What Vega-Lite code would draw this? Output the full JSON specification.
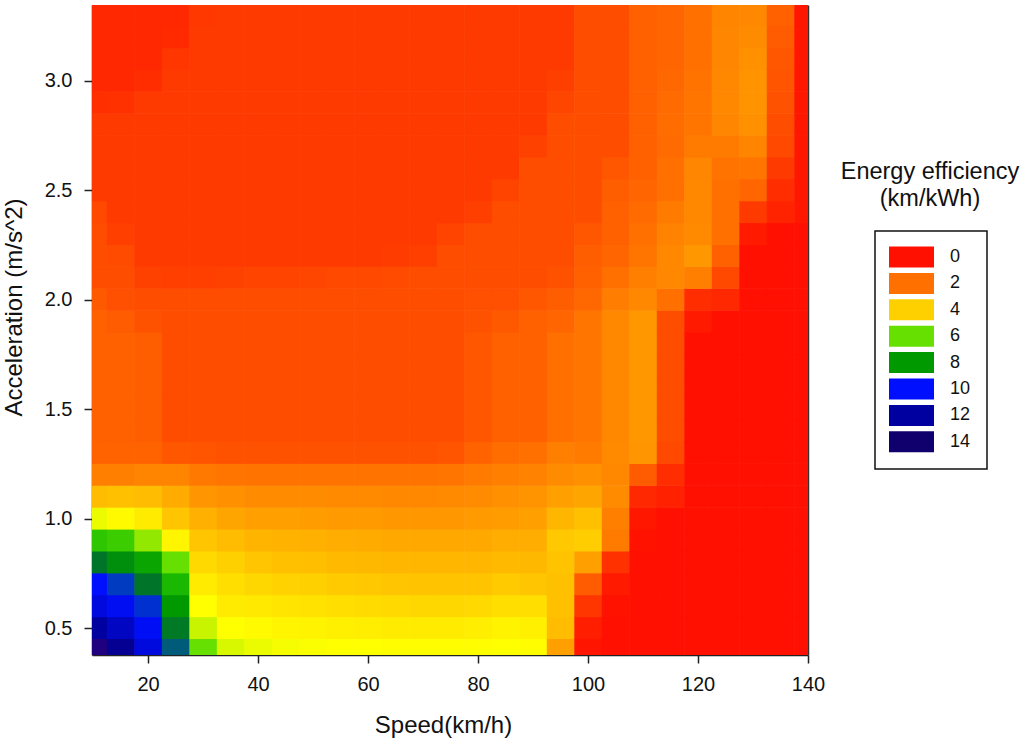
{
  "$schema": "https://vega.github.io/schema/vega-lite/v6.json",
  "description": "Filled contour of energy efficiency by speed and acceleration, drawn as a fine heatmap.",
  "width": 716,
  "height": 650,
  "autosize": {"type": "none"},
  "padding": {"left": 92, "top": 5, "right": 216, "bottom": 87},
  "title": {
    "text": ["Energy efficiency", "(km/kWh)"],
    "orient": "top",
    "anchor": "start",
    "frame": "group",
    "align": "center",
    "baseline": "top",
    "offset": 0,
    "dx": 838,
    "dy": 205,
    "font": "Liberation Sans",
    "fontSize": 23.5,
    "fontWeight": "normal",
    "color": "#111111",
    "lineHeight": 27
  },
  "data": {
    "values": [
      {"s":10,"a":0.4,"e":14.5},{"s":10,"a":0.5,"e":12},{"s":10,"a":0.6,"e":10.7},{"s":10,"a":0.7,"e":10},{"s":10,"a":0.8,"e":8.7},{"s":10,"a":0.9,"e":6.8},{"s":10,"a":1.0,"e":5.2},{"s":10,"a":1.1,"e":3.6},{"s":10,"a":1.2,"e":2.3},{"s":10,"a":1.3,"e":1.75},{"s":10,"a":1.4,"e":1.7},{"s":10,"a":1.5,"e":1.7},{"s":10,"a":1.6,"e":1.7},{"s":10,"a":1.7,"e":1.7},{"s":10,"a":1.8,"e":1.7},{"s":10,"a":1.9,"e":1.7},{"s":10,"a":2.0,"e":1.55},{"s":10,"a":2.1,"e":1.3},{"s":10,"a":2.2,"e":1.3},{"s":10,"a":2.3,"e":1.3},{"s":10,"a":2.4,"e":1.2},{"s":10,"a":2.5,"e":0.9},{"s":10,"a":2.6,"e":0.9},{"s":10,"a":2.7,"e":0.9},{"s":10,"a":2.8,"e":0.9},{"s":10,"a":2.9,"e":0.65},{"s":10,"a":3.0,"e":0.5},{"s":10,"a":3.1,"e":0.5},{"s":10,"a":3.2,"e":0.5},{"s":10,"a":3.3,"e":0.5},
      {"s":15,"a":0.4,"e":12.6},{"s":15,"a":0.5,"e":11.3},{"s":15,"a":0.6,"e":10.3},{"s":15,"a":0.7,"e":9.6},{"s":15,"a":0.8,"e":8.2},{"s":15,"a":0.9,"e":6.6},{"s":15,"a":1.0,"e":4.9},{"s":15,"a":1.1,"e":3.7},{"s":15,"a":1.2,"e":2.3},{"s":15,"a":1.3,"e":1.75},{"s":15,"a":1.4,"e":1.7},{"s":15,"a":1.5,"e":1.7},{"s":15,"a":1.6,"e":1.7},{"s":15,"a":1.7,"e":1.7},{"s":15,"a":1.8,"e":1.7},{"s":15,"a":1.9,"e":1.6},{"s":15,"a":2.0,"e":1.35},{"s":15,"a":2.1,"e":1.3},{"s":15,"a":2.2,"e":1.25},{"s":15,"a":2.3,"e":1.0},{"s":15,"a":2.4,"e":0.9},{"s":15,"a":2.5,"e":0.9},{"s":15,"a":2.6,"e":0.9},{"s":15,"a":2.7,"e":0.9},{"s":15,"a":2.8,"e":0.9},{"s":15,"a":2.9,"e":0.7},{"s":15,"a":3.0,"e":0.5},{"s":15,"a":3.1,"e":0.5},{"s":15,"a":3.2,"e":0.5},{"s":15,"a":3.3,"e":0.5},
      {"s":20,"a":0.4,"e":10.7},{"s":20,"a":0.5,"e":10.2},{"s":20,"a":0.6,"e":9.7},{"s":20,"a":0.7,"e":8.7},{"s":20,"a":0.8,"e":7.7},{"s":20,"a":0.9,"e":5.8},{"s":20,"a":1.0,"e":4.6},{"s":20,"a":1.1,"e":3.6},{"s":20,"a":1.2,"e":2.4},{"s":20,"a":1.3,"e":1.75},{"s":20,"a":1.4,"e":1.65},{"s":20,"a":1.5,"e":1.65},{"s":20,"a":1.6,"e":1.65},{"s":20,"a":1.7,"e":1.65},{"s":20,"a":1.8,"e":1.65},{"s":20,"a":1.9,"e":1.4},{"s":20,"a":2.0,"e":1.3},{"s":20,"a":2.1,"e":1.05},{"s":20,"a":2.2,"e":0.9},{"s":20,"a":2.3,"e":0.9},{"s":20,"a":2.4,"e":0.9},{"s":20,"a":2.5,"e":0.9},{"s":20,"a":2.6,"e":0.9},{"s":20,"a":2.7,"e":0.9},{"s":20,"a":2.8,"e":0.9},{"s":20,"a":2.9,"e":0.9},{"s":20,"a":3.0,"e":0.6},{"s":20,"a":3.1,"e":0.5},{"s":20,"a":3.2,"e":0.5},{"s":20,"a":3.3,"e":0.5},
      {"s":25,"a":0.4,"e":9.2},{"s":25,"a":0.5,"e":8.6},{"s":25,"a":0.6,"e":8.0},{"s":25,"a":0.7,"e":7.2},{"s":25,"a":0.8,"e":6.0},{"s":25,"a":0.9,"e":4.8},{"s":25,"a":1.0,"e":3.8},{"s":25,"a":1.1,"e":3.2},{"s":25,"a":1.2,"e":2.4},{"s":25,"a":1.3,"e":1.5},{"s":25,"a":1.4,"e":1.3},{"s":25,"a":1.5,"e":1.3},{"s":25,"a":1.6,"e":1.3},{"s":25,"a":1.7,"e":1.3},{"s":25,"a":1.8,"e":1.3},{"s":25,"a":1.9,"e":1.3},{"s":25,"a":2.0,"e":1.3},{"s":25,"a":2.1,"e":1.0},{"s":25,"a":2.2,"e":0.9},{"s":25,"a":2.3,"e":0.9},{"s":25,"a":2.4,"e":0.9},{"s":25,"a":2.5,"e":0.9},{"s":25,"a":2.6,"e":0.9},{"s":25,"a":2.7,"e":0.9},{"s":25,"a":2.8,"e":0.9},{"s":25,"a":2.9,"e":0.9},{"s":25,"a":3.0,"e":0.9},{"s":25,"a":3.1,"e":0.8},{"s":25,"a":3.2,"e":0.55},{"s":25,"a":3.3,"e":0.5},
      {"s":30,"a":0.4,"e":6.0},{"s":30,"a":0.5,"e":5.5},{"s":30,"a":0.6,"e":5.0},{"s":30,"a":0.7,"e":4.6},{"s":30,"a":0.8,"e":4.2},{"s":30,"a":0.9,"e":3.8},{"s":30,"a":1.0,"e":3.3},{"s":30,"a":1.1,"e":2.8},{"s":30,"a":1.2,"e":2.15},{"s":30,"a":1.3,"e":1.45},{"s":30,"a":1.4,"e":1.3},{"s":30,"a":1.5,"e":1.3},{"s":30,"a":1.6,"e":1.3},{"s":30,"a":1.7,"e":1.3},{"s":30,"a":1.8,"e":1.3},{"s":30,"a":1.9,"e":1.3},{"s":30,"a":2.0,"e":1.3},{"s":30,"a":2.1,"e":1.0},{"s":30,"a":2.2,"e":0.9},{"s":30,"a":2.3,"e":0.9},{"s":30,"a":2.4,"e":0.9},{"s":30,"a":2.5,"e":0.9},{"s":30,"a":2.6,"e":0.9},{"s":30,"a":2.7,"e":0.9},{"s":30,"a":2.8,"e":0.9},{"s":30,"a":2.9,"e":0.9},{"s":30,"a":3.0,"e":0.9},{"s":30,"a":3.1,"e":0.9},{"s":30,"a":3.2,"e":0.9},{"s":30,"a":3.3,"e":0.85},
      {"s":35,"a":0.4,"e":5.4},{"s":35,"a":0.5,"e":5.0},{"s":35,"a":0.6,"e":4.6},{"s":35,"a":0.7,"e":4.3},{"s":35,"a":0.8,"e":4.0},{"s":35,"a":0.9,"e":3.6},{"s":35,"a":1.0,"e":3.1},{"s":35,"a":1.1,"e":2.7},{"s":35,"a":1.2,"e":2.1},{"s":35,"a":1.3,"e":1.4},{"s":35,"a":1.4,"e":1.3},{"s":35,"a":1.5,"e":1.3},{"s":35,"a":1.6,"e":1.3},{"s":35,"a":1.7,"e":1.3},{"s":35,"a":1.8,"e":1.3},{"s":35,"a":1.9,"e":1.3},{"s":35,"a":2.0,"e":1.3},{"s":35,"a":2.1,"e":1.05},{"s":35,"a":2.2,"e":0.9},{"s":35,"a":2.3,"e":0.9},{"s":35,"a":2.4,"e":0.9},{"s":35,"a":2.5,"e":0.9},{"s":35,"a":2.6,"e":0.9},{"s":35,"a":2.7,"e":0.9},{"s":35,"a":2.8,"e":0.9},{"s":35,"a":2.9,"e":0.9},{"s":35,"a":3.0,"e":0.9},{"s":35,"a":3.1,"e":0.9},{"s":35,"a":3.2,"e":0.9},{"s":35,"a":3.3,"e":0.9},
      {"s":40,"a":0.4,"e":5.2},{"s":40,"a":0.5,"e":4.9},{"s":40,"a":0.6,"e":4.55},{"s":40,"a":0.7,"e":4.15},{"s":40,"a":0.8,"e":3.8},{"s":40,"a":0.9,"e":3.4},{"s":40,"a":1.0,"e":3.0},{"s":40,"a":1.1,"e":2.6},{"s":40,"a":1.2,"e":2.05},{"s":40,"a":1.3,"e":1.4},{"s":40,"a":1.4,"e":1.3},{"s":40,"a":1.5,"e":1.3},{"s":40,"a":1.6,"e":1.3},{"s":40,"a":1.7,"e":1.3},{"s":40,"a":1.8,"e":1.3},{"s":40,"a":1.9,"e":1.3},{"s":40,"a":2.0,"e":1.3},{"s":40,"a":2.1,"e":1.1},{"s":40,"a":2.2,"e":0.9},{"s":40,"a":2.3,"e":0.9},{"s":40,"a":2.4,"e":0.9},{"s":40,"a":2.5,"e":0.9},{"s":40,"a":2.6,"e":0.9},{"s":40,"a":2.7,"e":0.9},{"s":40,"a":2.8,"e":0.9},{"s":40,"a":2.9,"e":0.9},{"s":40,"a":3.0,"e":0.9},{"s":40,"a":3.1,"e":0.9},{"s":40,"a":3.2,"e":0.9},{"s":40,"a":3.3,"e":0.9},
      {"s":45,"a":0.4,"e":5.1},{"s":45,"a":0.5,"e":4.8},{"s":45,"a":0.6,"e":4.45},{"s":45,"a":0.7,"e":4.05},{"s":45,"a":0.8,"e":3.7},{"s":45,"a":0.9,"e":3.35},{"s":45,"a":1.0,"e":3.0},{"s":45,"a":1.1,"e":2.6},{"s":45,"a":1.2,"e":2.05},{"s":45,"a":1.3,"e":1.4},{"s":45,"a":1.4,"e":1.3},{"s":45,"a":1.5,"e":1.3},{"s":45,"a":1.6,"e":1.3},{"s":45,"a":1.7,"e":1.3},{"s":45,"a":1.8,"e":1.3},{"s":45,"a":1.9,"e":1.3},{"s":45,"a":2.0,"e":1.3},{"s":45,"a":2.1,"e":1.1},{"s":45,"a":2.2,"e":0.9},{"s":45,"a":2.3,"e":0.9},{"s":45,"a":2.4,"e":0.9},{"s":45,"a":2.5,"e":0.9},{"s":45,"a":2.6,"e":0.9},{"s":45,"a":2.7,"e":0.9},{"s":45,"a":2.8,"e":0.9},{"s":45,"a":2.9,"e":0.9},{"s":45,"a":3.0,"e":0.9},{"s":45,"a":3.1,"e":0.9},{"s":45,"a":3.2,"e":0.9},{"s":45,"a":3.3,"e":0.9},
      {"s":50,"a":0.4,"e":5.05},{"s":50,"a":0.5,"e":4.75},{"s":50,"a":0.6,"e":4.4},{"s":50,"a":0.7,"e":4.0},{"s":50,"a":0.8,"e":3.65},{"s":50,"a":0.9,"e":3.3},{"s":50,"a":1.0,"e":2.95},{"s":50,"a":1.1,"e":2.6},{"s":50,"a":1.2,"e":2.05},{"s":50,"a":1.3,"e":1.4},{"s":50,"a":1.4,"e":1.3},{"s":50,"a":1.5,"e":1.3},{"s":50,"a":1.6,"e":1.3},{"s":50,"a":1.7,"e":1.3},{"s":50,"a":1.8,"e":1.3},{"s":50,"a":1.9,"e":1.3},{"s":50,"a":2.0,"e":1.3},{"s":50,"a":2.1,"e":1.15},{"s":50,"a":2.2,"e":0.9},{"s":50,"a":2.3,"e":0.9},{"s":50,"a":2.4,"e":0.9},{"s":50,"a":2.5,"e":0.9},{"s":50,"a":2.6,"e":0.9},{"s":50,"a":2.7,"e":0.9},{"s":50,"a":2.8,"e":0.9},{"s":50,"a":2.9,"e":0.9},{"s":50,"a":3.0,"e":0.9},{"s":50,"a":3.1,"e":0.9},{"s":50,"a":3.2,"e":0.9},{"s":50,"a":3.3,"e":0.9},
      {"s":55,"a":0.4,"e":5.0},{"s":55,"a":0.5,"e":4.7},{"s":55,"a":0.6,"e":4.3},{"s":55,"a":0.7,"e":3.9},{"s":55,"a":0.8,"e":3.55},{"s":55,"a":0.9,"e":3.25},{"s":55,"a":1.0,"e":2.9},{"s":55,"a":1.1,"e":2.55},{"s":55,"a":1.2,"e":2.05},{"s":55,"a":1.3,"e":1.4},{"s":55,"a":1.4,"e":1.3},{"s":55,"a":1.5,"e":1.3},{"s":55,"a":1.6,"e":1.3},{"s":55,"a":1.7,"e":1.3},{"s":55,"a":1.8,"e":1.3},{"s":55,"a":1.9,"e":1.3},{"s":55,"a":2.0,"e":1.3},{"s":55,"a":2.1,"e":1.2},{"s":55,"a":2.2,"e":0.9},{"s":55,"a":2.3,"e":0.9},{"s":55,"a":2.4,"e":0.9},{"s":55,"a":2.5,"e":0.9},{"s":55,"a":2.6,"e":0.9},{"s":55,"a":2.7,"e":0.9},{"s":55,"a":2.8,"e":0.9},{"s":55,"a":2.9,"e":0.9},{"s":55,"a":3.0,"e":0.9},{"s":55,"a":3.1,"e":0.9},{"s":55,"a":3.2,"e":0.9},{"s":55,"a":3.3,"e":0.9},
      {"s":60,"a":0.4,"e":5.0},{"s":60,"a":0.5,"e":4.65},{"s":60,"a":0.6,"e":4.25},{"s":60,"a":0.7,"e":3.85},{"s":60,"a":0.8,"e":3.5},{"s":60,"a":0.9,"e":3.2},{"s":60,"a":1.0,"e":2.9},{"s":60,"a":1.1,"e":2.55},{"s":60,"a":1.2,"e":2.05},{"s":60,"a":1.3,"e":1.4},{"s":60,"a":1.4,"e":1.3},{"s":60,"a":1.5,"e":1.3},{"s":60,"a":1.6,"e":1.3},{"s":60,"a":1.7,"e":1.3},{"s":60,"a":1.8,"e":1.3},{"s":60,"a":1.9,"e":1.3},{"s":60,"a":2.0,"e":1.3},{"s":60,"a":2.1,"e":1.2},{"s":60,"a":2.2,"e":0.9},{"s":60,"a":2.3,"e":0.9},{"s":60,"a":2.4,"e":0.9},{"s":60,"a":2.5,"e":0.9},{"s":60,"a":2.6,"e":0.9},{"s":60,"a":2.7,"e":0.9},{"s":60,"a":2.8,"e":0.9},{"s":60,"a":2.9,"e":0.9},{"s":60,"a":3.0,"e":0.9},{"s":60,"a":3.1,"e":0.9},{"s":60,"a":3.2,"e":0.9},{"s":60,"a":3.3,"e":0.9},
      {"s":65,"a":0.4,"e":4.95},{"s":65,"a":0.5,"e":4.6},{"s":65,"a":0.6,"e":4.2},{"s":65,"a":0.7,"e":3.8},{"s":65,"a":0.8,"e":3.45},{"s":65,"a":0.9,"e":3.15},{"s":65,"a":1.0,"e":2.85},{"s":65,"a":1.1,"e":2.5},{"s":65,"a":1.2,"e":2.05},{"s":65,"a":1.3,"e":1.4},{"s":65,"a":1.4,"e":1.3},{"s":65,"a":1.5,"e":1.3},{"s":65,"a":1.6,"e":1.3},{"s":65,"a":1.7,"e":1.3},{"s":65,"a":1.8,"e":1.3},{"s":65,"a":1.9,"e":1.3},{"s":65,"a":2.0,"e":1.3},{"s":65,"a":2.1,"e":1.25},{"s":65,"a":2.2,"e":0.95},{"s":65,"a":2.3,"e":0.9},{"s":65,"a":2.4,"e":0.9},{"s":65,"a":2.5,"e":0.9},{"s":65,"a":2.6,"e":0.9},{"s":65,"a":2.7,"e":0.9},{"s":65,"a":2.8,"e":0.9},{"s":65,"a":2.9,"e":0.9},{"s":65,"a":3.0,"e":0.9},{"s":65,"a":3.1,"e":0.9},{"s":65,"a":3.2,"e":0.9},{"s":65,"a":3.3,"e":0.9},
      {"s":70,"a":0.4,"e":4.95},{"s":70,"a":0.5,"e":4.6},{"s":70,"a":0.6,"e":4.15},{"s":70,"a":0.7,"e":3.75},{"s":70,"a":0.8,"e":3.45},{"s":70,"a":0.9,"e":3.15},{"s":70,"a":1.0,"e":2.85},{"s":70,"a":1.1,"e":2.5},{"s":70,"a":1.2,"e":2.05},{"s":70,"a":1.3,"e":1.4},{"s":70,"a":1.4,"e":1.3},{"s":70,"a":1.5,"e":1.3},{"s":70,"a":1.6,"e":1.3},{"s":70,"a":1.7,"e":1.3},{"s":70,"a":1.8,"e":1.3},{"s":70,"a":1.9,"e":1.3},{"s":70,"a":2.0,"e":1.3},{"s":70,"a":2.1,"e":1.3},{"s":70,"a":2.2,"e":1.0},{"s":70,"a":2.3,"e":0.9},{"s":70,"a":2.4,"e":0.9},{"s":70,"a":2.5,"e":0.9},{"s":70,"a":2.6,"e":0.9},{"s":70,"a":2.7,"e":0.9},{"s":70,"a":2.8,"e":0.9},{"s":70,"a":2.9,"e":0.9},{"s":70,"a":3.0,"e":0.9},{"s":70,"a":3.1,"e":0.9},{"s":70,"a":3.2,"e":0.9},{"s":70,"a":3.3,"e":0.9},
      {"s":75,"a":0.4,"e":4.95},{"s":75,"a":0.5,"e":4.6},{"s":75,"a":0.6,"e":4.15},{"s":75,"a":0.7,"e":3.75},{"s":75,"a":0.8,"e":3.45},{"s":75,"a":0.9,"e":3.15},{"s":75,"a":1.0,"e":2.85},{"s":75,"a":1.1,"e":2.55},{"s":75,"a":1.2,"e":2.1},{"s":75,"a":1.3,"e":1.45},{"s":75,"a":1.4,"e":1.3},{"s":75,"a":1.5,"e":1.3},{"s":75,"a":1.6,"e":1.3},{"s":75,"a":1.7,"e":1.3},{"s":75,"a":1.8,"e":1.3},{"s":75,"a":1.9,"e":1.3},{"s":75,"a":2.0,"e":1.3},{"s":75,"a":2.1,"e":1.3},{"s":75,"a":2.2,"e":1.3},{"s":75,"a":2.3,"e":1.1},{"s":75,"a":2.4,"e":0.9},{"s":75,"a":2.5,"e":0.9},{"s":75,"a":2.6,"e":0.9},{"s":75,"a":2.7,"e":0.9},{"s":75,"a":2.8,"e":0.9},{"s":75,"a":2.9,"e":0.9},{"s":75,"a":3.0,"e":0.9},{"s":75,"a":3.1,"e":0.9},{"s":75,"a":3.2,"e":0.9},{"s":75,"a":3.3,"e":0.9},
      {"s":80,"a":0.4,"e":4.95},{"s":80,"a":0.5,"e":4.65},{"s":80,"a":0.6,"e":4.2},{"s":80,"a":0.7,"e":3.75},{"s":80,"a":0.8,"e":3.45},{"s":80,"a":0.9,"e":3.15},{"s":80,"a":1.0,"e":2.9},{"s":80,"a":1.1,"e":2.6},{"s":80,"a":1.2,"e":2.2},{"s":80,"a":1.3,"e":1.75},{"s":80,"a":1.4,"e":1.5},{"s":80,"a":1.5,"e":1.5},{"s":80,"a":1.6,"e":1.5},{"s":80,"a":1.7,"e":1.5},{"s":80,"a":1.8,"e":1.5},{"s":80,"a":1.9,"e":1.4},{"s":80,"a":2.0,"e":1.35},{"s":80,"a":2.1,"e":1.3},{"s":80,"a":2.2,"e":1.3},{"s":80,"a":2.3,"e":1.3},{"s":80,"a":2.4,"e":1.0},{"s":80,"a":2.5,"e":0.9},{"s":80,"a":2.6,"e":0.9},{"s":80,"a":2.7,"e":0.9},{"s":80,"a":2.8,"e":0.9},{"s":80,"a":2.9,"e":0.9},{"s":80,"a":3.0,"e":0.9},{"s":80,"a":3.1,"e":0.9},{"s":80,"a":3.2,"e":0.9},{"s":80,"a":3.3,"e":0.9},
      {"s":85,"a":0.4,"e":5.0},{"s":85,"a":0.5,"e":4.75},{"s":85,"a":0.6,"e":4.3},{"s":85,"a":0.7,"e":3.9},{"s":85,"a":0.8,"e":3.55},{"s":85,"a":0.9,"e":3.25},{"s":85,"a":1.0,"e":2.95},{"s":85,"a":1.1,"e":2.7},{"s":85,"a":1.2,"e":2.3},{"s":85,"a":1.3,"e":1.95},{"s":85,"a":1.4,"e":1.7},{"s":85,"a":1.5,"e":1.7},{"s":85,"a":1.6,"e":1.7},{"s":85,"a":1.7,"e":1.7},{"s":85,"a":1.8,"e":1.7},{"s":85,"a":1.9,"e":1.55},{"s":85,"a":2.0,"e":1.35},{"s":85,"a":2.1,"e":1.3},{"s":85,"a":2.2,"e":1.3},{"s":85,"a":2.3,"e":1.3},{"s":85,"a":2.4,"e":1.3},{"s":85,"a":2.5,"e":1.1},{"s":85,"a":2.6,"e":0.9},{"s":85,"a":2.7,"e":0.9},{"s":85,"a":2.8,"e":0.9},{"s":85,"a":2.9,"e":0.9},{"s":85,"a":3.0,"e":0.9},{"s":85,"a":3.1,"e":0.9},{"s":85,"a":3.2,"e":0.9},{"s":85,"a":3.3,"e":0.9},
      {"s":90,"a":0.4,"e":4.95},{"s":90,"a":0.5,"e":4.7},{"s":90,"a":0.6,"e":4.3},{"s":90,"a":0.7,"e":3.8},{"s":90,"a":0.8,"e":3.5},{"s":90,"a":0.9,"e":3.25},{"s":90,"a":1.0,"e":3.0},{"s":90,"a":1.1,"e":2.75},{"s":90,"a":1.2,"e":2.35},{"s":90,"a":1.3,"e":2.0},{"s":90,"a":1.4,"e":1.7},{"s":90,"a":1.5,"e":1.7},{"s":90,"a":1.6,"e":1.7},{"s":90,"a":1.7,"e":1.7},{"s":90,"a":1.8,"e":1.7},{"s":90,"a":1.9,"e":1.7},{"s":90,"a":2.0,"e":1.5},{"s":90,"a":2.1,"e":1.3},{"s":90,"a":2.2,"e":1.3},{"s":90,"a":2.3,"e":1.3},{"s":90,"a":2.4,"e":1.3},{"s":90,"a":2.5,"e":1.3},{"s":90,"a":2.6,"e":1.3},{"s":90,"a":2.7,"e":1.05},{"s":90,"a":2.8,"e":0.9},{"s":90,"a":2.9,"e":0.9},{"s":90,"a":3.0,"e":0.9},{"s":90,"a":3.1,"e":0.9},{"s":90,"a":3.2,"e":0.9},{"s":90,"a":3.3,"e":0.9},
      {"s":95,"a":0.4,"e":3.0},{"s":95,"a":0.5,"e":3.6},{"s":95,"a":0.6,"e":3.7},{"s":95,"a":0.7,"e":3.7},{"s":95,"a":0.8,"e":3.75},{"s":95,"a":0.9,"e":3.85},{"s":95,"a":1.0,"e":3.45},{"s":95,"a":1.1,"e":3.0},{"s":95,"a":1.2,"e":2.6},{"s":95,"a":1.3,"e":2.3},{"s":95,"a":1.4,"e":2.0},{"s":95,"a":1.5,"e":2.0},{"s":95,"a":1.6,"e":2.0},{"s":95,"a":1.7,"e":2.0},{"s":95,"a":1.8,"e":2.0},{"s":95,"a":1.9,"e":1.8},{"s":95,"a":2.0,"e":1.65},{"s":95,"a":2.1,"e":1.4},{"s":95,"a":2.2,"e":1.3},{"s":95,"a":2.3,"e":1.3},{"s":95,"a":2.4,"e":1.3},{"s":95,"a":2.5,"e":1.3},{"s":95,"a":2.6,"e":1.3},{"s":95,"a":2.7,"e":1.3},{"s":95,"a":2.8,"e":1.3},{"s":95,"a":2.9,"e":1.15},{"s":95,"a":3.0,"e":1.0},{"s":95,"a":3.1,"e":0.9},{"s":95,"a":3.2,"e":0.9},{"s":95,"a":3.3,"e":0.9},
      {"s":100,"a":0.4,"e":0.1},{"s":100,"a":0.5,"e":0.3},{"s":100,"a":0.6,"e":0.8},{"s":100,"a":0.7,"e":1.6},{"s":100,"a":0.8,"e":3.0},{"s":100,"a":0.9,"e":3.95},{"s":100,"a":1.0,"e":3.7},{"s":100,"a":1.1,"e":3.1},{"s":100,"a":1.2,"e":2.7},{"s":100,"a":1.3,"e":2.2},{"s":100,"a":1.4,"e":2.1},{"s":100,"a":1.5,"e":2.1},{"s":100,"a":1.6,"e":2.1},{"s":100,"a":1.7,"e":2.1},{"s":100,"a":1.8,"e":2.1},{"s":100,"a":1.9,"e":2.1},{"s":100,"a":2.0,"e":1.85},{"s":100,"a":2.1,"e":1.7},{"s":100,"a":2.2,"e":1.65},{"s":100,"a":2.3,"e":1.5},{"s":100,"a":2.4,"e":1.3},{"s":100,"a":2.5,"e":1.3},{"s":100,"a":2.6,"e":1.3},{"s":100,"a":2.7,"e":1.3},{"s":100,"a":2.8,"e":1.3},{"s":100,"a":2.9,"e":1.3},{"s":100,"a":3.0,"e":1.3},{"s":100,"a":3.1,"e":1.3},{"s":100,"a":3.2,"e":1.3},{"s":100,"a":3.3,"e":1.3},
      {"s":105,"a":0.4,"e":0},{"s":105,"a":0.5,"e":0},{"s":105,"a":0.6,"e":0.05},{"s":105,"a":0.7,"e":0.2},{"s":105,"a":0.8,"e":0.7},{"s":105,"a":0.9,"e":2.2},{"s":105,"a":1.0,"e":2.3},{"s":105,"a":1.1,"e":2.6},{"s":105,"a":1.2,"e":2.5},{"s":105,"a":1.3,"e":2.55},{"s":105,"a":1.4,"e":2.5},{"s":105,"a":1.5,"e":2.5},{"s":105,"a":1.6,"e":2.5},{"s":105,"a":1.7,"e":2.5},{"s":105,"a":1.8,"e":2.5},{"s":105,"a":1.9,"e":2.5},{"s":105,"a":2.0,"e":2.25},{"s":105,"a":2.1,"e":2.0},{"s":105,"a":2.2,"e":1.8},{"s":105,"a":2.3,"e":1.7},{"s":105,"a":2.4,"e":1.7},{"s":105,"a":2.5,"e":1.65},{"s":105,"a":2.6,"e":1.5},{"s":105,"a":2.7,"e":1.3},{"s":105,"a":2.8,"e":1.3},{"s":105,"a":2.9,"e":1.3},{"s":105,"a":3.0,"e":1.3},{"s":105,"a":3.1,"e":1.3},{"s":105,"a":3.2,"e":1.3},{"s":105,"a":3.3,"e":1.3},
      {"s":110,"a":0.4,"e":0},{"s":110,"a":0.5,"e":0},{"s":110,"a":0.6,"e":0},{"s":110,"a":0.7,"e":0},{"s":110,"a":0.8,"e":0},{"s":110,"a":0.9,"e":0.05},{"s":110,"a":1.0,"e":0.15},{"s":110,"a":1.1,"e":0.5},{"s":110,"a":1.2,"e":1.6},{"s":110,"a":1.3,"e":2.8},{"s":110,"a":1.4,"e":2.85},{"s":110,"a":1.5,"e":2.85},{"s":110,"a":1.6,"e":2.85},{"s":110,"a":1.7,"e":2.85},{"s":110,"a":1.8,"e":2.85},{"s":110,"a":1.9,"e":2.85},{"s":110,"a":2.0,"e":2.5},{"s":110,"a":2.1,"e":2.3},{"s":110,"a":2.2,"e":2.1},{"s":110,"a":2.3,"e":2.0},{"s":110,"a":2.4,"e":1.9},{"s":110,"a":2.5,"e":1.8},{"s":110,"a":2.6,"e":1.7},{"s":110,"a":2.7,"e":1.7},{"s":110,"a":2.8,"e":1.7},{"s":110,"a":2.9,"e":1.7},{"s":110,"a":3.0,"e":1.7},{"s":110,"a":3.1,"e":1.7},{"s":110,"a":3.2,"e":1.7},{"s":110,"a":3.3,"e":1.7},
      {"s":115,"a":0.4,"e":0},{"s":115,"a":0.5,"e":0},{"s":115,"a":0.6,"e":0},{"s":115,"a":0.7,"e":0},{"s":115,"a":0.8,"e":0},{"s":115,"a":0.9,"e":0},{"s":115,"a":1.0,"e":0},{"s":115,"a":1.1,"e":0.35},{"s":115,"a":1.2,"e":0.6},{"s":115,"a":1.3,"e":1.2},{"s":115,"a":1.4,"e":1.3},{"s":115,"a":1.5,"e":1.3},{"s":115,"a":1.6,"e":1.3},{"s":115,"a":1.7,"e":1.3},{"s":115,"a":1.8,"e":1.3},{"s":115,"a":1.9,"e":1.3},{"s":115,"a":2.0,"e":2.0},{"s":115,"a":2.1,"e":2.5},{"s":115,"a":2.2,"e":2.5},{"s":115,"a":2.3,"e":2.35},{"s":115,"a":2.4,"e":2.2},{"s":115,"a":2.5,"e":2.0},{"s":115,"a":2.6,"e":2.0},{"s":115,"a":2.7,"e":1.9},{"s":115,"a":2.8,"e":1.95},{"s":115,"a":2.9,"e":1.9},{"s":115,"a":3.0,"e":1.85},{"s":115,"a":3.1,"e":1.8},{"s":115,"a":3.2,"e":1.8},{"s":115,"a":3.3,"e":1.8},
      {"s":120,"a":0.4,"e":0},{"s":120,"a":0.5,"e":0},{"s":120,"a":0.6,"e":0},{"s":120,"a":0.7,"e":0},{"s":120,"a":0.8,"e":0},{"s":120,"a":0.9,"e":0},{"s":120,"a":1.0,"e":0},{"s":120,"a":1.1,"e":0},{"s":120,"a":1.2,"e":0},{"s":120,"a":1.3,"e":0},{"s":120,"a":1.4,"e":0},{"s":120,"a":1.5,"e":0},{"s":120,"a":1.6,"e":0},{"s":120,"a":1.7,"e":0},{"s":120,"a":1.8,"e":0},{"s":120,"a":1.9,"e":0.2},{"s":120,"a":2.0,"e":0.6},{"s":120,"a":2.1,"e":2.3},{"s":120,"a":2.2,"e":2.85},{"s":120,"a":2.3,"e":2.55},{"s":120,"a":2.4,"e":2.5},{"s":120,"a":2.5,"e":2.5},{"s":120,"a":2.6,"e":2.45},{"s":120,"a":2.7,"e":2.2},{"s":120,"a":2.8,"e":2.1},{"s":120,"a":2.9,"e":2.1},{"s":120,"a":3.0,"e":2.05},{"s":120,"a":3.1,"e":2.0},{"s":120,"a":3.2,"e":2.0},{"s":120,"a":3.3,"e":2.0},
      {"s":125,"a":0.4,"e":0},{"s":125,"a":0.5,"e":0},{"s":125,"a":0.6,"e":0},{"s":125,"a":0.7,"e":0},{"s":125,"a":0.8,"e":0},{"s":125,"a":0.9,"e":0},{"s":125,"a":1.0,"e":0},{"s":125,"a":1.1,"e":0},{"s":125,"a":1.2,"e":0},{"s":125,"a":1.3,"e":0},{"s":125,"a":1.4,"e":0},{"s":125,"a":1.5,"e":0},{"s":125,"a":1.6,"e":0},{"s":125,"a":1.7,"e":0},{"s":125,"a":1.8,"e":0},{"s":125,"a":1.9,"e":0},{"s":125,"a":2.0,"e":0.5},{"s":125,"a":2.1,"e":1.2},{"s":125,"a":2.2,"e":1.7},{"s":125,"a":2.3,"e":2.0},{"s":125,"a":2.4,"e":2.0},{"s":125,"a":2.5,"e":2.0},{"s":125,"a":2.6,"e":2.05},{"s":125,"a":2.7,"e":2.2},{"s":125,"a":2.8,"e":2.45},{"s":125,"a":2.9,"e":2.5},{"s":125,"a":3.0,"e":2.5},{"s":125,"a":3.1,"e":2.45},{"s":125,"a":3.2,"e":2.45},{"s":125,"a":3.3,"e":2.4},
      {"s":130,"a":0.4,"e":0},{"s":130,"a":0.5,"e":0},{"s":130,"a":0.6,"e":0},{"s":130,"a":0.7,"e":0},{"s":130,"a":0.8,"e":0},{"s":130,"a":0.9,"e":0},{"s":130,"a":1.0,"e":0},{"s":130,"a":1.1,"e":0},{"s":130,"a":1.2,"e":0},{"s":130,"a":1.3,"e":0},{"s":130,"a":1.4,"e":0},{"s":130,"a":1.5,"e":0},{"s":130,"a":1.6,"e":0},{"s":130,"a":1.7,"e":0},{"s":130,"a":1.8,"e":0},{"s":130,"a":1.9,"e":0},{"s":130,"a":2.0,"e":0},{"s":130,"a":2.1,"e":0},{"s":130,"a":2.2,"e":0},{"s":130,"a":2.3,"e":0.2},{"s":130,"a":2.4,"e":0.9},{"s":130,"a":2.5,"e":1.8},{"s":130,"a":2.6,"e":2.1},{"s":130,"a":2.7,"e":2.4},{"s":130,"a":2.8,"e":2.7},{"s":130,"a":2.9,"e":2.75},{"s":130,"a":3.0,"e":2.75},{"s":130,"a":3.1,"e":2.7},{"s":130,"a":3.2,"e":2.6},{"s":130,"a":3.3,"e":2.5},
      {"s":135,"a":0.4,"e":0},{"s":135,"a":0.5,"e":0},{"s":135,"a":0.6,"e":0},{"s":135,"a":0.7,"e":0},{"s":135,"a":0.8,"e":0},{"s":135,"a":0.9,"e":0},{"s":135,"a":1.0,"e":0},{"s":135,"a":1.1,"e":0},{"s":135,"a":1.2,"e":0},{"s":135,"a":1.3,"e":0},{"s":135,"a":1.4,"e":0},{"s":135,"a":1.5,"e":0},{"s":135,"a":1.6,"e":0},{"s":135,"a":1.7,"e":0},{"s":135,"a":1.8,"e":0},{"s":135,"a":1.9,"e":0},{"s":135,"a":2.0,"e":0},{"s":135,"a":2.1,"e":0},{"s":135,"a":2.2,"e":0},{"s":135,"a":2.3,"e":0},{"s":135,"a":2.4,"e":0.4},{"s":135,"a":2.5,"e":0.6},{"s":135,"a":2.6,"e":0.9},{"s":135,"a":2.7,"e":1.2},{"s":135,"a":2.8,"e":1.3},{"s":135,"a":2.9,"e":1.4},{"s":135,"a":3.0,"e":1.45},{"s":135,"a":3.1,"e":1.5},{"s":135,"a":3.2,"e":1.6},{"s":135,"a":3.3,"e":1.7},
      {"s":140,"a":0.4,"e":0},{"s":140,"a":0.5,"e":0},{"s":140,"a":0.6,"e":0},{"s":140,"a":0.7,"e":0},{"s":140,"a":0.8,"e":0},{"s":140,"a":0.9,"e":0},{"s":140,"a":1.0,"e":0},{"s":140,"a":1.1,"e":0},{"s":140,"a":1.2,"e":0},{"s":140,"a":1.3,"e":0},{"s":140,"a":1.4,"e":0},{"s":140,"a":1.5,"e":0},{"s":140,"a":1.6,"e":0},{"s":140,"a":1.7,"e":0},{"s":140,"a":1.8,"e":0},{"s":140,"a":1.9,"e":0},{"s":140,"a":2.0,"e":0},{"s":140,"a":2.1,"e":0},{"s":140,"a":2.2,"e":0},{"s":140,"a":2.3,"e":0},{"s":140,"a":2.4,"e":0.15},{"s":140,"a":2.5,"e":0.15},{"s":140,"a":2.6,"e":0.15},{"s":140,"a":2.7,"e":0.15},{"s":140,"a":2.8,"e":0.15},{"s":140,"a":2.9,"e":0.15},{"s":140,"a":3.0,"e":0.15},{"s":140,"a":3.1,"e":0.15},{"s":140,"a":3.2,"e":0.15},{"s":140,"a":3.3,"e":0.15}
    ]
  },
  "transform": [
    {"bin": {"step": 5, "extent": [7.5, 142.5], "nice": false}, "field": "s", "as": ["s0", "s1"]},
    {"bin": {"step": 0.1, "extent": [0.35, 3.35], "nice": false}, "field": "a", "as": ["a0", "a1"]}
  ],
  "layer": [
    {
      "mark": {"type": "rect", "clip": true, "x2Offset": 0.6, "y2Offset": -0.6, "strokeWidth": 0},
      "encoding": {
        "x": {
          "field": "s0",
          "type": "quantitative",
          "scale": {"domain": [9.8, 140], "nice": false, "zero": false},
          "axis": {
            "values": [20, 40, 60, 80, 100, 120, 140],
            "format": "d",
            "grid": false,
            "labelFont": "Liberation Sans",
            "labelFontSize": 20,
            "labelColor": "#111111",
            "labelPadding": 11,
            "labelFlush": false,
            "tickSize": 8,
            "tickWidth": 1.5,
            "tickColor": "#222222",
            "domainColor": "#222222",
            "domainWidth": 1.5,
            "title": "Speed(km/h)",
            "titleFont": "Liberation Sans",
            "titleFontSize": 24,
            "titleFontWeight": "normal",
            "titleColor": "#111111",
            "titleX": 351,
            "titleY": 77,
            "titleBaseline": "alphabetic"
          }
        },
        "x2": {"field": "s1"},
        "y": {
          "field": "a0",
          "type": "quantitative",
          "scale": {"domain": [0.377, 3.347], "nice": false, "zero": false},
          "axis": {
            "values": [0.5, 1.0, 1.5, 2.0, 2.5, 3.0],
            "format": ".1f",
            "grid": false,
            "labelFont": "Liberation Sans",
            "labelFontSize": 20,
            "labelColor": "#111111",
            "labelPadding": 12,
            "labelFlush": false,
            "tickSize": 8,
            "tickWidth": 1.5,
            "tickColor": "#222222",
            "domainColor": "#222222",
            "domainWidth": 1.5,
            "title": "Acceleration (m/s^2)",
            "titleFont": "Liberation Sans",
            "titleFontSize": 24,
            "titleFontWeight": "normal",
            "titleColor": "#111111",
            "titleX": -71,
            "titleY": 302,
            "titleAngle": -90,
            "titleAlign": "center",
            "titleBaseline": "alphabetic"
          }
        },
        "y2": {"field": "a1"},
        "color": {
          "field": "e",
          "type": "quantitative",
          "scale": {
            "domain": [0, 0.5, 0.9, 1.3, 1.7, 2.0, 2.3, 2.7, 3.0, 3.3, 3.7, 4.0, 4.35, 4.7, 5.0, 5.4, 5.7, 6.0, 7.0, 8.0, 8.8, 9.4, 10, 12, 14, 15],
            "range": ["#ff1000", "#ff2800", "#ff3a00", "#ff4d00", "#ff6000", "#ff7000", "#ff8000", "#ff9000", "#ffa000", "#ffb000", "#ffc000", "#ffd000", "#ffe000", "#fff000", "#ffff00", "#d8f800", "#a8ec00", "#66e000", "#20c000", "#009900", "#007030", "#0050a0", "#0010ff", "#0000a0", "#10006e", "#300090"],
            "interpolate": "rgb",
            "nice": false,
            "zero": false
          },
          "legend": {
            "type": "symbol",
            "values": [0, 2, 4, 6, 8, 10, 12, 14],
            "format": "d",
            "title": null,
            "orient": "none",
            "legendX": 783,
            "legendY": 226,
            "direction": "vertical",
            "symbolType": "M-2.25,-1.05H2.25V1.05H-2.25Z",
            "symbolSize": 400,
            "symbolStrokeWidth": 0,
            "symbolOpacity": 1,
            "symbolOffset": 10.5,
            "labelOffset": 28.5,
            "rowPadding": 4.4,
            "padding": 16,
            "strokeColor": "#111111",
            "fillColor": "#ffffff",
            "labelFont": "Liberation Sans",
            "labelFontSize": 18,
            "labelColor": "#111111"
          }
        }
      }
    },
    {
      "mark": {"type": "rule", "opacity": 0},
      "encoding": {
        "y": {
          "field": "a0",
          "type": "quantitative",
          "axis": {
            "orient": "right",
            "labels": false,
            "ticks": false,
            "grid": false,
            "title": null,
            "domainColor": "#333333",
            "domainWidth": 1.5
          }
        }
      }
    }
  ],
  "resolve": {"axis": {"y": "independent"}},
  "config": {
    "view": {"stroke": null},
    "legend": {"strokeWidth": 1.5}
  }
}
